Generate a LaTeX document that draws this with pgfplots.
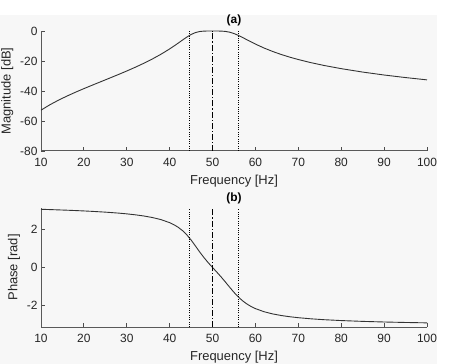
\documentclass[border=0pt]{standalone}
\usepackage{fontspec}
\setmainfont{Liberation Sans}
\usepackage{pgfplots}
\pgfplotsset{compat=1.18}
\begin{document}
\begin{tikzpicture}
\path[use as bounding box] (0bp,0bp) rectangle (474bp,364bp);
\fill[black!3] (0bp,0bp) rectangle (437bp,349bp);
\pgfplotsset{
  myax/.style={
    scale only axis, width=386bp,
    axis lines=left, axis line style={-, black!65, line width=1pt},
    tick align=inside, major tick length=4pt,
    tick style={black!70, line width=0.8pt},
    xmin=10, xmax=100, xtick={10,20,...,100},
    every tick label/.append style={font=\fontsize{12}{14}\selectfont, black!85},
    xticklabel style={yshift=-4pt},
    label style={font=\fontsize{13}{15}\selectfont, black!85},
    title style={font=\bfseries\fontsize{12}{14}\selectfont, yshift=-4pt},
    /pgf/number format/assume math mode=true,
    xlabel={Frequency [Hz]},
    xlabel style={yshift=-1pt},
    clip=false,
  },
  dd/.style={black, line width=1.8pt, dash pattern=on 6pt off 2pt on 1.2pt off 2pt},
  dt/.style={black, line width=0.9pt, dash pattern=on 0.9pt off 1.4pt},
}
\begin{axis}[myax, at={(41bp,213bp)}, anchor=south west, height=120bp,
  ymin=-80, ymax=0, ytick={-80,-60,-40,-20,0},
  ylabel={Magnitude [dB]}, title={(a)}]
\addplot[black!80, line width=0.9pt] table {
10 -52.78
12 -49.29
14 -46.23
16 -43.45
18 -40.87
20 -38.42
22 -36.06
25 -32.58
28 -29.07
30 -26.66
32 -24.15
34 -21.48
36 -18.60
38 -15.45
40 -11.95
41 -10.04
42 -8.06
43 -6.02
44 -4.06
45 -2.33
46 -1.06
47 -0.35
48 -0.07
49 -0.004
50 0
51 -0.004
52 -0.06
53 -0.28
54 -0.80
55 -1.69
56 -2.90
57 -4.32
58 -5.82
59 -7.30
60 -8.73
62 -11.34
64 -13.64
66 -15.65
68 -17.44
70 -19.03
73 -21.14
76 -22.98
80 -25.10
85 -27.38
90 -29.34
95 -31.05
100 -32.58
};
\addplot[dt] coordinates {(44.58,-80) (44.58,0)};
\addplot[dd] coordinates {(50,-80) (50,0)};
\addplot[dt] coordinates {(56.08,-80) (56.08,0)};
\end{axis}
\begin{axis}[myax, at={(41bp,37bp)}, anchor=south west, height=119bp,
  ymin=-3.14159, ymax=3.14159, ytick={-2,0,2},
  ylabel={Phase [rad]}, title={(b)}, title style={yshift=-2pt}]
\addplot[black!80, line width=0.9pt] table {
10 3.0738
12 3.0587
14 3.0426
16 3.0254
18 3.0067
20 2.9861
22 2.9632
25 2.9231
28 2.8732
30 2.8320
32 2.7817
34 2.7191
36 2.6373
38 2.5264
40 2.3671
41 2.2582
42 2.1208
43 1.9458
44 1.7234
45 1.4500
46 1.1388
47 0.8203
48 0.5221
49 0.2510
50 0
51 -0.2459
52 -0.4997
53 -0.7676
54 -1.0438
55 -1.3118
56 -1.5531
57 -1.7577
58 -1.9251
59 -2.0607
60 -2.1709
62 -2.3346
64 -2.4495
66 -2.5346
68 -2.5994
70 -2.6506
73 -2.7102
76 -2.7557
80 -2.8018
85 -2.8448
90 -2.8773
95 -2.9026
100 -2.9231
};
\addplot[dt] coordinates {(44.58,-3.14159) (44.58,3.14159)};
\addplot[dd] coordinates {(50,-3.14159) (50,3.14159)};
\addplot[dt] coordinates {(56.08,-3.14159) (56.08,3.14159)};
\end{axis}
\end{tikzpicture}
\end{document}
